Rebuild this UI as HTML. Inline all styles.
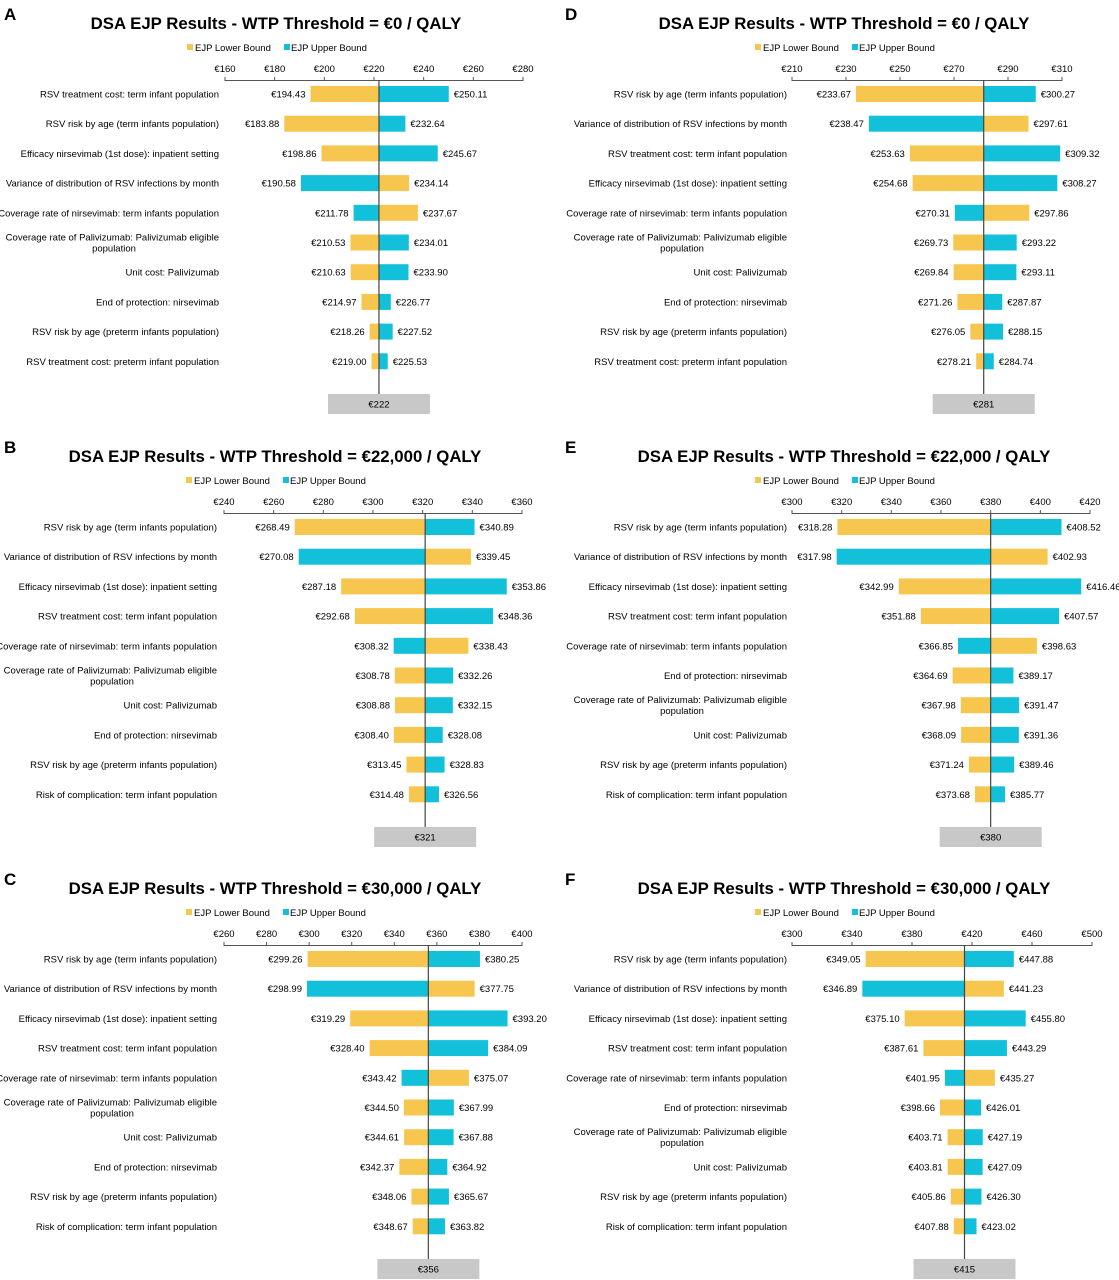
<!DOCTYPE html>
<html><head><meta charset="utf-8"><style>
html,body{margin:0;padding:0;background:#fff;}
svg{display:block;font-family:"Liberation Sans",Arial,sans-serif;}
</style></head><body>
<svg id="s" width="1119" height="1280" xmlns="http://www.w3.org/2000/svg"></svg>
<script>
var Y='#F7C64F',C='#13C0D9';
var L={tc:'RSV treatment cost: term infant population',rt:'RSV risk by age (term infants population)',ef:'Efficacy nirsevimab (1st dose): inpatient setting',va:'Variance of distribution of RSV infections by month',cn:'Coverage rate of nirsevimab: term infants population',cp:'Coverage rate of Palivizumab: Palivizumab eligible|population',uc:'Unit cost: Palivizumab',ep:'End of protection: nirsevimab',rp:'RSV risk by age (preterm infants population)',tp:'RSV treatment cost: preterm infant population',rc:'Risk of complication: term infant population'};
var P=[
{let:'A',lx:4,oy:0,title:'DSA EJP Results - WTP Threshold = €0 / QALY',tc:276,x0:225,x1:523,a:160,b:280,st:20,base:222,lab:219,
rows:[['tc',194.43,250.11],['rt',183.88,232.64],['ef',198.86,245.67],['va',234.14,190.58],['cn',237.67,211.78],['cp',210.53,234.01],['uc',210.63,233.90],['ep',214.97,226.77],['rp',218.26,227.52],['tp',219.00,225.53]]},
{let:'B',lx:4,oy:433,title:'DSA EJP Results - WTP Threshold = €22,000 / QALY',tc:275,x0:224,x1:522,a:240,b:360,st:20,base:321,lab:217,
rows:[['rt',268.49,340.89],['va',339.45,270.08],['ef',287.18,353.86],['tc',292.68,348.36],['cn',338.43,308.32],['cp',308.78,332.26],['uc',308.88,332.15],['ep',308.40,328.08],['rp',313.45,328.83],['rc',314.48,326.56]]},
{let:'C',lx:4,oy:865,title:'DSA EJP Results - WTP Threshold = €30,000 / QALY',tc:275,x0:224,x1:522,a:260,b:400,st:20,base:356,lab:217,
rows:[['rt',299.26,380.25],['va',377.75,298.99],['ef',319.29,393.20],['tc',328.40,384.09],['cn',375.07,343.42],['cp',344.50,367.99],['uc',344.61,367.88],['ep',342.37,364.92],['rp',348.06,365.67],['rc',348.67,363.82]]},
{let:'D',lx:565,oy:0,title:'DSA EJP Results - WTP Threshold = €0 / QALY',tc:844,x0:792,x1:1062,a:210,b:310,st:20,base:281,lab:787,
rows:[['rt',233.67,300.27],['va',297.61,238.47],['tc',253.63,309.32],['ef',254.68,308.27],['cn',297.86,270.31],['cp',269.73,293.22],['uc',269.84,293.11],['ep',271.26,287.87],['rp',276.05,288.15],['tp',278.21,284.74]]},
{let:'E',lx:565,oy:433,title:'DSA EJP Results - WTP Threshold = €22,000 / QALY',tc:844,x0:792,x1:1090,a:300,b:420,st:20,base:380,lab:787,
rows:[['rt',318.28,408.52],['va',402.93,317.98],['ef',342.99,416.46],['tc',351.88,407.57],['cn',398.63,366.85],['ep',364.69,389.17],['cp',367.98,391.47],['uc',368.09,391.36],['rp',371.24,389.46],['rc',373.68,385.77]]},
{let:'F',lx:565,oy:865,title:'DSA EJP Results - WTP Threshold = €30,000 / QALY',tc:844,x0:792,x1:1092,a:300,b:500,st:40,base:415,lab:787,
rows:[['rt',349.05,447.88],['va',441.23,346.89],['ef',375.10,455.80],['tc',387.61,443.29],['cn',435.27,401.95],['ep',398.66,426.01],['cp',403.71,427.19],['uc',403.81,427.09],['rp',405.86,426.30],['rc',407.88,423.02]]}
];
var h='';
function t(x,y,s,o){return '<text x="'+x+'" y="'+y+'" '+(o||'')+'>'+s+'</text>';}
P.forEach(function(p){
 var o=p.oy,X=function(v){return p.x0+(v-p.a)/(p.b-p.a)*(p.x1-p.x0);};
 h+=t(p.lx,o+20,p.let,'font-size="17" font-weight="bold"');
 h+=t(p.tc,o+29,p.title,'font-size="16.8" font-weight="bold" text-anchor="middle"');
 var lc=p.tc+2;
 h+='<rect x="'+(lc-91)+'" y="'+(o+44)+'" width="6" height="6" fill="'+Y+'"/>'+t(lc-83,o+51,'EJP Lower Bound','font-size="9.5"');
 h+='<rect x="'+(lc+6)+'" y="'+(o+44)+'" width="6" height="6" fill="'+C+'"/>'+t(lc+13,o+51,'EJP Upper Bound','font-size="9.5"');
 h+='<line x1="'+p.x0+'" y1="'+(o+80.5)+'" x2="'+p.x1+'" y2="'+(o+80.5)+'" stroke="#555" stroke-width="1"/>';
 for(var v=p.a;v<=p.b;v+=p.st){var x=X(v);h+='<line x1="'+x+'" y1="'+(o+77)+'" x2="'+x+'" y2="'+(o+81)+'" stroke="#555"/>'+t(x,o+72,'€'+v,'font-size="9.5" text-anchor="middle"');}
 var bx=X(p.base);
 p.rows.forEach(function(r,i){
  var cy=o+94+i*29.7,yv=r[1],cv=r[2],lo=Math.min(yv,cv),hi=Math.max(yv,cv);
  var lcol=lo==yv?Y:C,hcol=hi==yv?Y:C;
  h+='<rect x="'+X(lo)+'" y="'+(cy-8)+'" width="'+(bx-X(lo))+'" height="16" fill="'+lcol+'"/>';
  h+='<rect x="'+bx+'" y="'+(cy-8)+'" width="'+(X(hi)-bx)+'" height="16" fill="'+hcol+'"/>';
  h+=t(X(lo)-5,cy+3.5,'€'+lo.toFixed(2),'font-size="9.5" text-anchor="end"');
  h+=t(X(hi)+5,cy+3.5,'€'+hi.toFixed(2),'font-size="9.5"');
  var lab=L[r[0]];
  if(lab.indexOf('|')>=0){var pr=lab.split('|');h+=t(p.lab,cy-2,pr[0],'font-size="9.5" text-anchor="end"');h+=t(p.lab-105,cy+9,pr[1],'font-size="9.5" text-anchor="middle"');}
  else h+=t(p.lab,cy+3.5,lab,'font-size="9.5" text-anchor="end"');
 });
 h+='<rect x="'+(bx-51)+'" y="'+(o+394)+'" width="102" height="20" fill="#C8C8C8"/>';
 h+='<line x1="'+bx+'" y1="'+(o+80)+'" x2="'+bx+'" y2="'+(o+394)+'" stroke="#444" stroke-width="1.2"/>';
 h+=t(bx,o+407.5,'€'+p.base,'font-size="9.5" text-anchor="middle"');
});
document.getElementById('s').innerHTML=h;
</script>
</body></html>
